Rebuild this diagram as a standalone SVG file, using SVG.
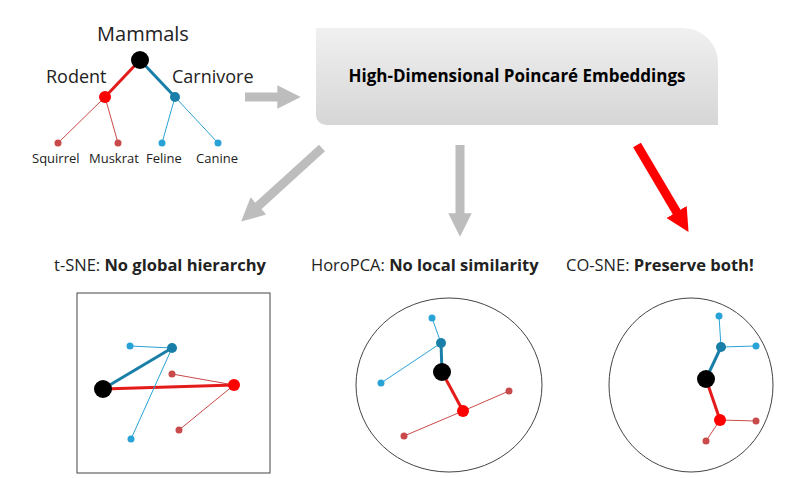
<svg xmlns="http://www.w3.org/2000/svg" width="794" height="478" viewBox="0 0 794 478">
<style>
text{font-family:"Segoe UI","Open Sans","Noto Sans",sans-serif;fill:#222}
.r{stroke:#e31b1b}.b{stroke:#1a7fa8}.rl{stroke:#c94a4a;stroke-width:1}.bl{stroke:#29a3d6;stroke-width:1}
.lab{font-size:16.5px}
</style>
<defs>
<linearGradient id="g" x1="0" y1="0" x2="0" y2="1"><stop offset="0" stop-color="#f0f0f0"/><stop offset="1" stop-color="#d6d6d6"/></linearGradient>
<marker id="ag" viewBox="0 0 10 10" refX="2" refY="5" markerWidth="2.6" markerHeight="2.8" orient="auto"><path d="M0,0L10,5L0,10z" fill="#bdbdbd"/></marker>
<marker id="ar" viewBox="0 0 10 10" refX="2" refY="5" markerWidth="2.6" markerHeight="2.8" orient="auto"><path d="M0,0L10,5L0,10z" fill="#f00"/></marker>
</defs>
<g id="connectors" fill="none">
<line x1="140" y1="60" x2="105" y2="97" class="r" stroke-width="3"/>
<line x1="140" y1="60" x2="175" y2="97" class="b" stroke-width="3"/>
<line x1="105" y1="97" x2="58" y2="143" class="rl"/><line x1="105" y1="97" x2="118" y2="143" class="rl"/>
<line x1="175" y1="97" x2="162" y2="143" class="bl"/><line x1="175" y1="97" x2="218" y2="143" class="bl"/>
<line x1="245" y1="97" x2="282" y2="97" stroke="#bdbdbd" stroke-width="9" marker-end="url(#ag)"/>
<line x1="322" y1="148" x2="255" y2="209" stroke="#bdbdbd" stroke-width="9" marker-end="url(#ag)"/>
<line x1="460" y1="145" x2="460" y2="218" stroke="#bdbdbd" stroke-width="9" marker-end="url(#ag)"/>
<line x1="637" y1="145" x2="679" y2="216" stroke="#f00" stroke-width="9" marker-end="url(#ar)"/>
<line x1="103" y1="389" x2="172" y2="348" class="b" stroke-width="3"/>
<line x1="103" y1="389" x2="234" y2="385" class="r" stroke-width="3"/>
<line x1="172" y1="348" x2="130" y2="346" class="bl"/><line x1="172" y1="348" x2="131" y2="439" class="bl"/>
<line x1="234" y1="385" x2="172" y2="374" class="rl"/><line x1="234" y1="385" x2="179" y2="430" class="rl"/>
<line x1="442" y1="372" x2="441" y2="343" class="b" stroke-width="3"/>
<line x1="442" y1="372" x2="463" y2="411" class="r" stroke-width="3"/>
<line x1="441" y1="343" x2="432" y2="318" class="bl"/><line x1="441" y1="343" x2="381" y2="383" class="bl"/>
<line x1="463" y1="411" x2="509" y2="391" class="rl"/><line x1="463" y1="411" x2="404" y2="436" class="rl"/>
<line x1="706" y1="379" x2="721" y2="347" class="b" stroke-width="3"/>
<line x1="706" y1="379" x2="720" y2="420" class="r" stroke-width="3"/>
<line x1="721" y1="347" x2="719" y2="316" class="bl"/><line x1="721" y1="347" x2="756" y2="346" class="bl"/>
<line x1="720" y1="420" x2="756" y2="421" class="rl"/><line x1="720" y1="420" x2="706" y2="441" class="rl"/>
</g>
<g id="tree">
<text x="143" y="41" font-size="20" text-anchor="middle">Mammals</text>
<text x="46" y="83" font-size="18">Rodent</text>
<text x="172" y="83" font-size="18">Carnivore</text>
<circle cx="140" cy="60" r="9" fill="#000"/><circle cx="105" cy="97" r="6" fill="#f00"/><circle cx="175" cy="97" r="5" fill="#1a7fa8"/>
<circle cx="58" cy="143" r="3.5" fill="#c94a4a"/><circle cx="118" cy="143" r="3.5" fill="#c94a4a"/><circle cx="162" cy="143" r="3.5" fill="#29a3d6"/><circle cx="218" cy="143" r="3.5" fill="#29a3d6"/>
<text x="32" y="163" font-size="13">Squirrel</text><text x="89" y="163" font-size="13">Muskrat</text><text x="146" y="163" font-size="13">Feline</text><text x="196" y="163" font-size="13">Canine</text>
</g>
<g id="box">
<path d="M316,28H683A35,35 0 0 1 718,63V125H326A10,10 0 0 1 316,115Z" fill="url(#g)"/>
<text x="517" y="82" font-size="17" font-weight="bold" text-anchor="middle" style="fill:#000">High-Dimensional Poincaré Embeddings</text>
</g>
<g id="tsne">
<text x="54" y="271" class="lab">t-SNE: <tspan font-weight="bold">No global hierarchy</tspan></text>
<rect x="77" y="293" width="193" height="180" fill="none" stroke="#444"/>
<circle cx="103" cy="389" r="9" fill="#000"/><circle cx="172" cy="348" r="5" fill="#1a7fa8"/><circle cx="234" cy="385" r="6" fill="#f00"/>
<circle cx="130" cy="346" r="3.5" fill="#29a3d6"/><circle cx="131" cy="439" r="3.5" fill="#29a3d6"/><circle cx="172" cy="374" r="3.5" fill="#c94a4a"/><circle cx="179" cy="430" r="3.5" fill="#c94a4a"/>
</g>
<g id="horopca">
<text x="311" y="271" class="lab">HoroPCA: <tspan font-weight="bold">No local similarity</tspan></text>
<ellipse cx="449" cy="385" rx="93" ry="87" fill="none" stroke="#444"/>
<circle cx="442" cy="372" r="9" fill="#000"/><circle cx="441" cy="343" r="5" fill="#1a7fa8"/><circle cx="463" cy="411" r="6" fill="#f00"/>
<circle cx="432" cy="318" r="3.5" fill="#29a3d6"/><circle cx="381" cy="383" r="3.5" fill="#29a3d6"/><circle cx="509" cy="391" r="3.5" fill="#c94a4a"/><circle cx="404" cy="436" r="3.5" fill="#c94a4a"/>
</g>
<g id="cosne">
<text x="566" y="271" class="lab">CO-SNE: <tspan font-weight="bold">Preserve both!</tspan></text>
<ellipse cx="691" cy="385" rx="82" ry="87" fill="none" stroke="#444"/>
<circle cx="706" cy="379" r="9" fill="#000"/><circle cx="721" cy="347" r="5" fill="#1a7fa8"/><circle cx="720" cy="420" r="6" fill="#f00"/>
<circle cx="719" cy="316" r="3.5" fill="#29a3d6"/><circle cx="756" cy="346" r="3.5" fill="#29a3d6"/><circle cx="756" cy="421" r="3.5" fill="#c94a4a"/><circle cx="706" cy="441" r="3.5" fill="#c94a4a"/>
</g>
</svg>
